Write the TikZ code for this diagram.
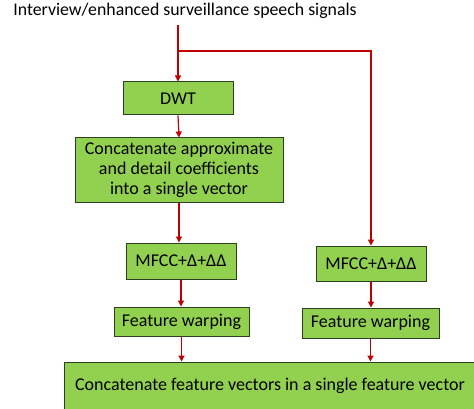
\documentclass[tikz,border=0pt]{standalone}
\usepackage{fontspec}
\setmainfont{Carlito}
\usepackage{tikz}
\usetikzlibrary{arrows.meta,positioning,calc}
\definecolor{boxgreen}{HTML}{92D050}
\definecolor{boxline}{RGB}{45,62,35}
\definecolor{arrred}{HTML}{C00000}

\begin{document}
\begin{tikzpicture}[x=1pt, y=-1pt,
    box/.style={draw=boxline, line width=1pt, fill=boxgreen, align=center, inner sep=2pt, font=\fontsize{18}{20}\selectfont},
    arr/.style={-{Triangle[length=6pt,width=6pt]}, draw=arrred, line width=1.2pt},
    lbl/.style={font=\fontsize{17.8}{20}\selectfont, inner sep=1pt}
]
\useasboundingbox (0,0) rectangle (474,409);
\node[lbl] (title) at (185,11) {Interview/enhanced surveillance speech signals};
\node[box, minimum width=110pt, minimum height=33pt] (dwt) at (178,98.5) {DWT};
\node[box, minimum width=208pt, minimum height=64pt] (concat) at (179,170) {Concatenate approximate\\and detail coefficients\\into a single vector};
\node[box, minimum width=110pt, minimum height=36pt] (mfccl) at (181,261) {MFCC+Δ+ΔΔ};
\node[box, minimum width=110pt, minimum height=35pt] (mfccr) at (371,263.5) {MFCC+Δ+ΔΔ};
\node[box, minimum width=135pt, minimum height=29pt] (warpl) at (181.5,321.5) {Feature warping};
\node[box, minimum width=137pt, minimum height=30pt] (warpr) at (370.5,323) {Feature warping};
\node[box, minimum width=412pt, minimum height=50pt] (fuse) at (270,387) {\raisebox{5pt}{Concatenate feature vectors in a single feature vector}};
\coordinate (split) at (178,51);

\draw[arr] (title.south -| dwt.north) ++(0,5) -- (dwt.north);
\draw[arr] (split) -| (mfccr.north);
\draw[arr] (dwt.south) -- (concat.north);
\draw[arr] (concat.south) -- (concat.south |- mfccl.north);
\draw[arr] (mfccr.south) -- (mfccr.south |- warpr.north);
\draw[arr] (mfccl.south) -- (mfccl.south |- warpl.north);
\draw[arr] (warpl.south) -- (warpl.south |- fuse.north);
\draw[arr] (warpr.south) -- (warpr.south |- fuse.north);
\end{tikzpicture}
\end{document}
